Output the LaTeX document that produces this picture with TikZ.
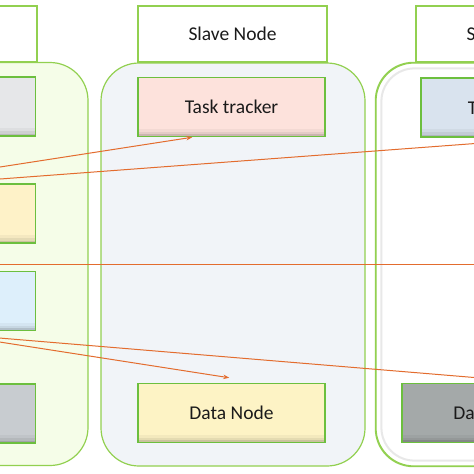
\documentclass[tikz,border=0pt]{standalone}
\usepackage{fontspec}
\setmainfont{Carlito}
\usetikzlibrary{arrows.meta,calc}
\definecolor{pgreen}{HTML}{92D050}
\definecolor{bgreen}{HTML}{6CBF3E}
\definecolor{leftfill}{HTML}{F5FDE8}
\definecolor{midfill}{HTML}{F1F4F8}
\definecolor{ttpink}{HTML}{FDE2DC}
\definecolor{dnyellow}{HTML}{FDF3C5}
\definecolor{rtblue}{HTML}{D9E3EE}
\definecolor{rdgray}{HTML}{A4A9A9}
\definecolor{lgray}{HTML}{E6E7E9}
\definecolor{lyellow}{HTML}{FEF2C8}
\definecolor{lblue}{HTML}{DDEFFB}
\definecolor{lgraydark}{HTML}{C8CCD0}
\definecolor{arrowc}{HTML}{E36C2E}
\definecolor{txt}{HTML}{1A1A1A}
\begin{document}
\begin{tikzpicture}[x=1pt,y=-1pt,
  panel/.style={draw=pgreen, line width=1.2pt, rounded corners=38pt, fill=#1,
    minimum width=264pt, minimum height=403pt, inner sep=0pt},
  header/.style={draw=pgreen, line width=1.2pt, fill=white,
    minimum width=189pt, minimum height=56pt, inner sep=0pt, text=txt,
    font=\fontsize{19.5}{23}\selectfont},
  box/.style={draw=bgreen, line width=1.5pt, fill=#1,
    minimum width=187pt, minimum height=59pt, inner sep=0pt, text=txt,
    font=\fontsize{19.5}{23}\selectfont,
    path picture={
      \fill[#1!96!black] ([yshift=-1pt]path picture bounding box.south west) rectangle
        ([yshift=8pt]path picture bounding box.south east);
      \fill[#1!90!black] ([yshift=-1pt]path picture bounding box.south west) rectangle
        ([yshift=5pt]path picture bounding box.south east);
      \fill[#1!80!black] ([yshift=-1pt]path picture bounding box.south west) rectangle
        ([yshift=2.5pt]path picture bounding box.south east);}},
  link/.style={draw=arrowc, line width=1pt},
  tip/.style={-{Stealth[length=6pt,width=4.5pt]}}
]
\useasboundingbox (0,0) rectangle (474,474);
\fill[white] (0,0) rectangle (474,474);

% panels
\node[panel=leftfill] (lp) at (-44,264) {};
\node[panel=midfill] (mp) at (233,264.5) {};
\node[panel=white] (rp) at (508,264.5) {};
\draw[black!9, line width=2pt, rounded corners=33pt]
  ([xshift=6pt,yshift=-6pt]rp.north west) rectangle ([xshift=-6pt,yshift=6pt]rp.south east);
\draw[pgreen, line width=1.2pt, rounded corners=38pt]
  (rp.north west) rectangle (rp.south east);

% headers
\node[header] (lh) at (-57.5,34) {};
\node[header] (mh) at (232.5,34) {Slave Node};
\node[header] (rh) at (510.5,34) {Slave Node};

% left panel boxes
\node[box=lgray] (l1) at (-58,106.5) {};
\node[box=lyellow] (l2) at (-58,213.5) {};
\node[box=lblue] (l3) at (-58,301) {};
\node[box=lgraydark] (l4) at (-58,413.5) {};

% middle panel boxes
\node[box=ttpink] (mtt) at (231.5,107) {Task tracker};
\node[box=dnyellow] (mdn) at (231.5,413) {Data Node};

% right panel boxes
\node[box=rtblue] (rtt) at (514.5,107.5) {Task tracker};
\node[box=rdgray] (rdn) at (495.5,413) {Data Node};

% connector end points outside the view
\coordinate (srcA) at (-40,173.2);
\coordinate (srcB) at (-40,182);
\coordinate (srcC) at (-40,264);
\coordinate (srcD) at (-55,333.5);
\coordinate (dstC) at (620,264);

\draw[link,tip] (srcA) -- ([xshift=55pt]mtt.south west);
\draw[link,tip] (srcB) -- ([xshift=132pt]rtt.south west);
\draw[link,tip] (srcC) -- (dstC);
\draw[link,tip] (srcD) -- ([xshift=88pt,yshift=4pt]rdn.north west);
\draw[link,tip] (srcD) -- ([xshift=92pt,yshift=5pt]mdn.north west);
\end{tikzpicture}
\end{document}
